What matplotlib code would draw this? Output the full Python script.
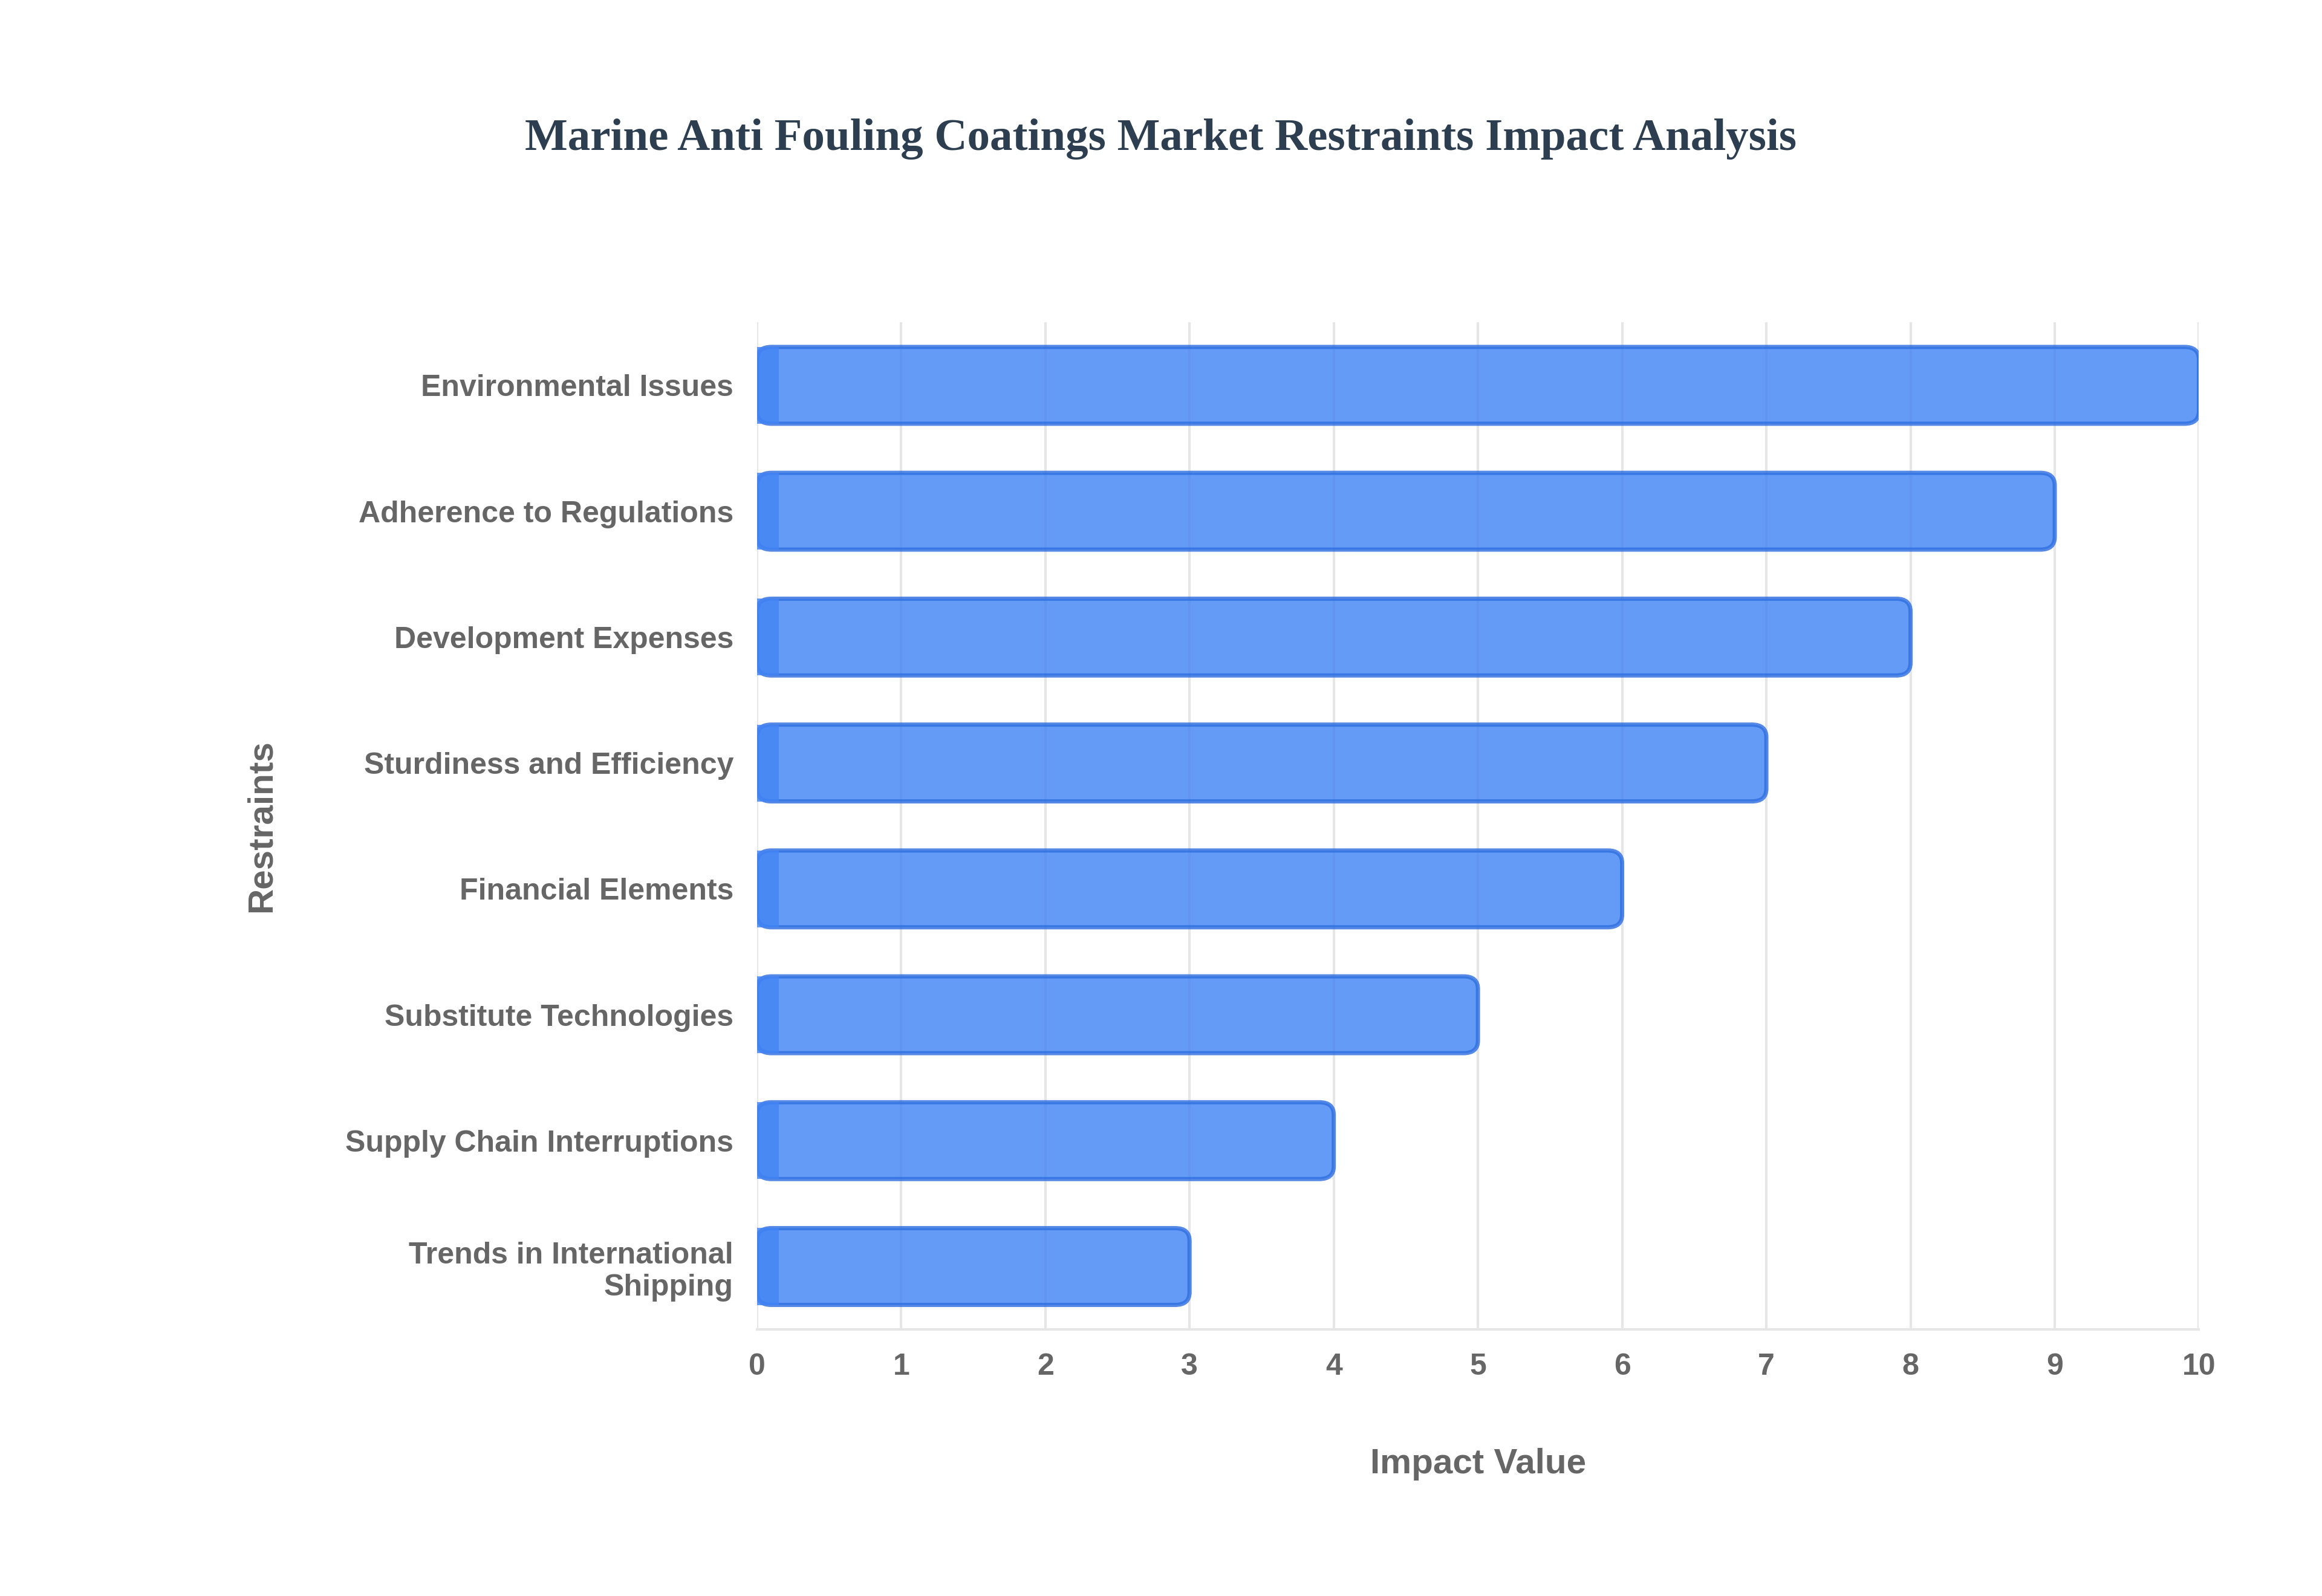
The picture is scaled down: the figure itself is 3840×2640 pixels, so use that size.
import matplotlib
matplotlib.use("Agg")
import matplotlib.pyplot as plt
from matplotlib.patches import FancyBboxPatch

restraints = ["Environmental Issues", "Adherence to Regulations", "Development Expenses",
              "Sturdiness and Efficiency", "Financial Elements", "Substitute Technologies",
              "Supply Chain Interruptions", "Trends in International\nShipping"]
impact = [10, 9, 8, 7, 6, 5, 4, 3]

grey = "#666666"
fig = plt.figure(figsize=(19.2, 13.2), dpi=200)
ax = fig.add_axes([0.326, 0.167, 0.621, 0.631])

y = list(range(len(restraints)))
bars = ax.barh(y, impact, height=0.61, color="none", edgecolor="none")
for b in bars:
    x0, y0, w, h = b.get_x(), b.get_y(), b.get_width(), b.get_height()
    patch = FancyBboxPatch((x0, y0), w, h, boxstyle="round,pad=0,rounding_size=0.1",
                           mutation_aspect=1.0, facecolor="#4285F4", alpha=0.82,
                           edgecolor="#2F6FE0", linewidth=2.5)
    ax.add_patch(patch)
    ax.add_patch(plt.Rectangle((x0, y0), 0.15, h, facecolor="#4285F4", alpha=0.82,
                               edgecolor="none"))

ax.set_yticks(y)
ax.set_yticklabels(restraints)
ax.invert_yaxis()
ax.set_ylim(len(restraints) - 0.5, -0.5)
ax.set_xlim(0, 10)
ax.set_xticks(range(0, 11))
ax.grid(axis="x", color="#e6e6e6", linewidth=1.5)
ax.set_axisbelow(True)
for s in ["top", "right", "left"]:
    ax.spines[s].set_visible(False)
ax.spines["bottom"].set_color("#e6e6e6")
ax.spines["bottom"].set_linewidth(1.5)
ax.tick_params(length=0, pad=14)
for lab in ax.get_yticklabels() + ax.get_xticklabels():
    lab.set_family("Liberation Sans")
    lab.set_fontweight("bold")
    lab.set_color(grey)
    lab.set_fontsize(18)
for lab in ax.get_yticklabels():
    lab.set_horizontalalignment("right")
    lab.set_multialignment("right")

ax.set_xlabel("Impact Value", family="Liberation Sans", fontweight="bold", color=grey,
              fontsize=21, labelpad=40)
ax.set_ylabel("Restraints", family="Liberation Sans", fontweight="bold", color=grey,
              fontsize=21, labelpad=40)
fig.text(0.5, 0.913, "Marine Anti Fouling Coatings Market Restraints Impact Analysis",
         ha="center", va="center", family="Liberation Serif", fontweight="bold",
         color="#2C3E50", fontsize=27)

fig.savefig("out.png", dpi=200, facecolor="white")
